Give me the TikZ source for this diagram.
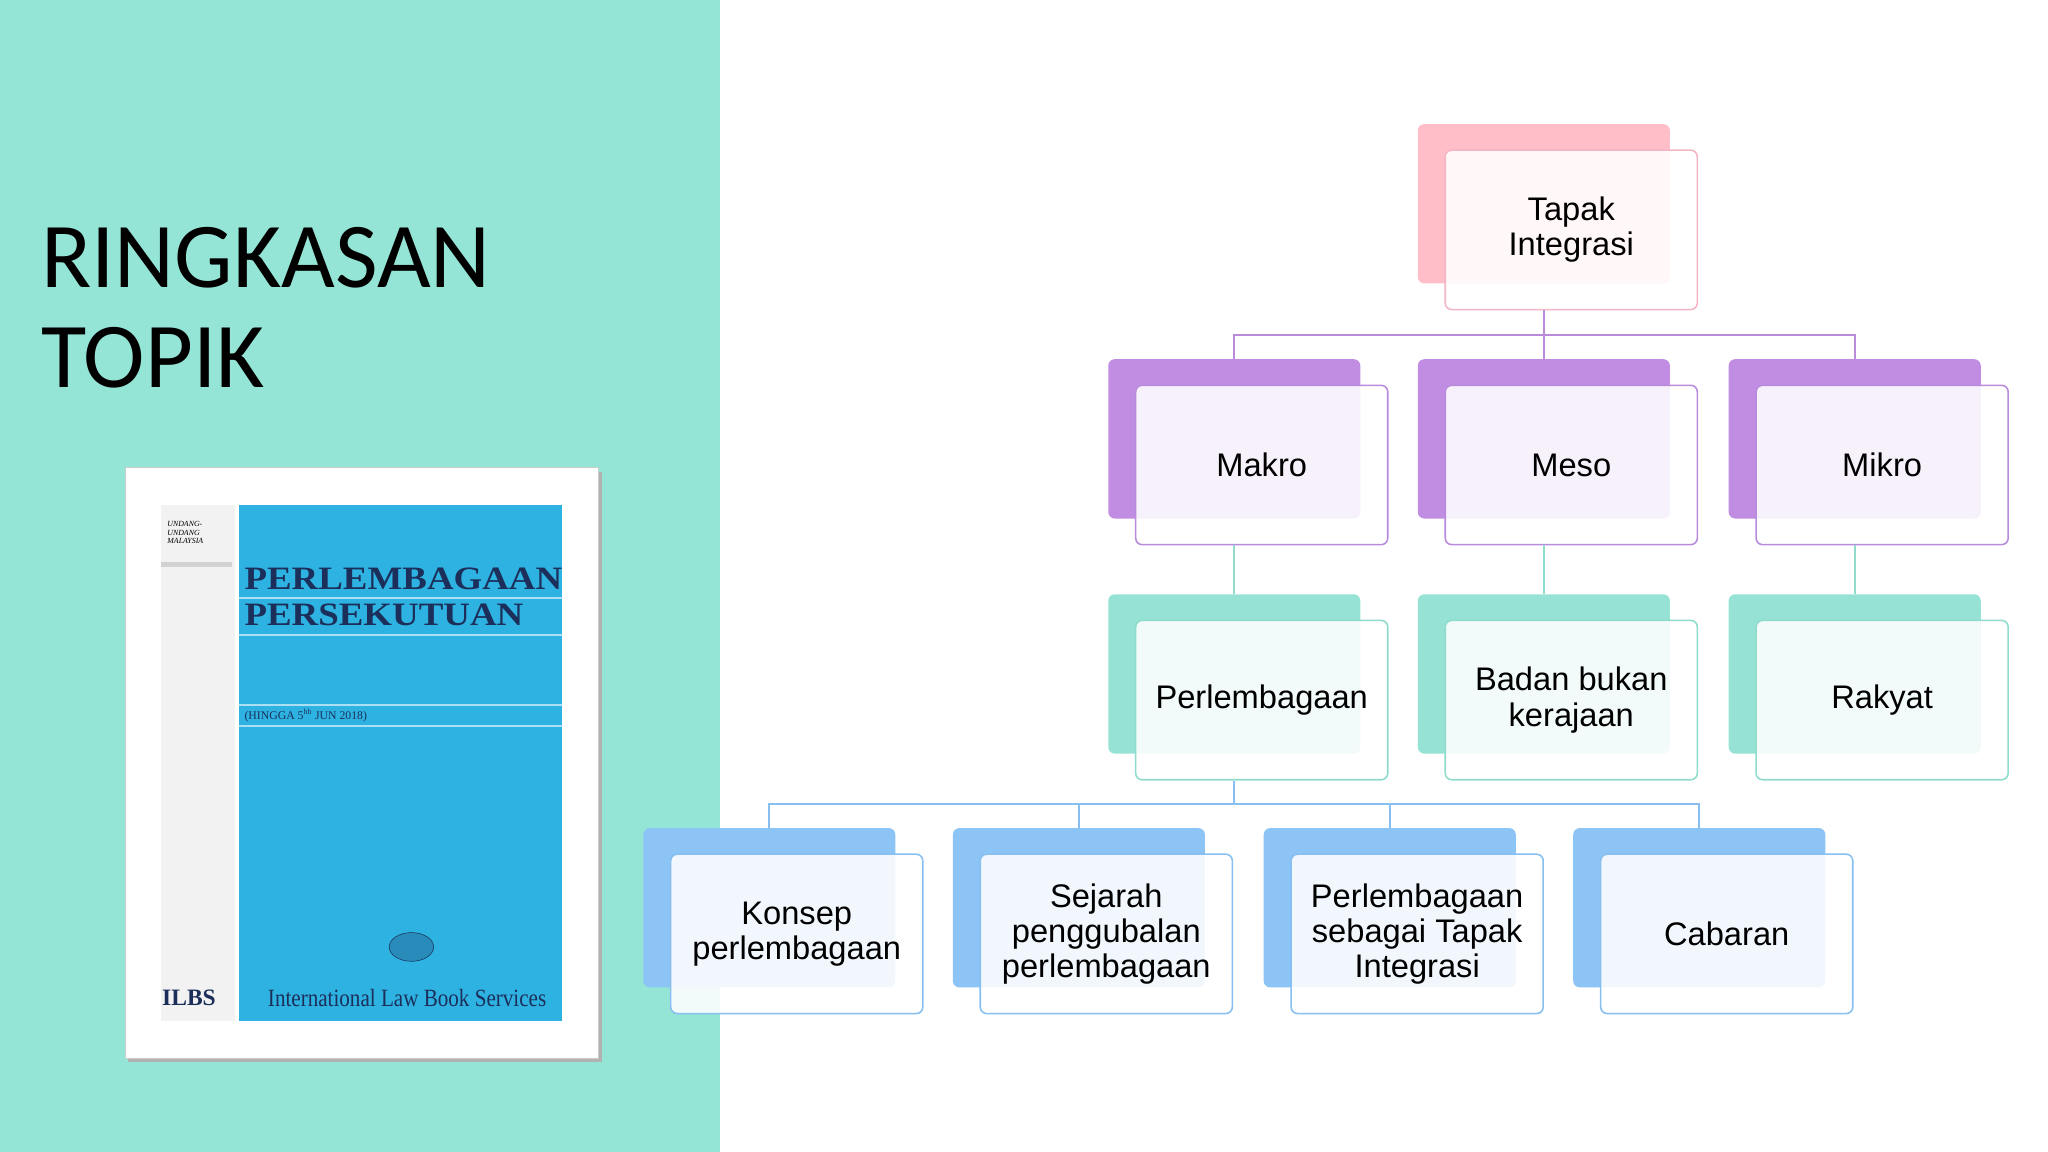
\documentclass[tikz,border=0pt]{standalone}
\usepackage{fontspec}
\setmainfont{Liberation Sans}
\newfontfamily\carl{Carlito}
\newfontfamily\tms{Liberation Serif}
\definecolor{panel}{HTML}{95E5D7}
\definecolor{pinkb}{HTML}{FFBEC8}
\definecolor{pinkd}{HTML}{F4B6C5}
\definecolor{purb}{HTML}{C08DE3}
\definecolor{purd}{HTML}{B88BDD}
\definecolor{teab}{HTML}{96E3D5}
\definecolor{tead}{HTML}{8FDCCD}
\definecolor{blub}{HTML}{8CC4F5}
\definecolor{blud}{HTML}{86BFF0}
\definecolor{cover}{HTML}{2EB2E2}
\definecolor{navy}{HTML}{1B2F5A}
\tikzset{
  backbox/.style={fill=#1, draw=none, rounded corners=5pt, minimum width=193pt, minimum height=122pt, inner sep=0pt},
  frontbox/.style={fill=white, fill opacity=0.88, text opacity=1, draw=#1, line width=1.2pt, rounded corners=5pt, minimum width=193pt, minimum height=122pt, inner sep=0pt, align=center, font=\fontsize{25}{27}\selectfont},
  conn/.style={draw=#1, line width=1.3pt}
}
\begin{document}
\begin{tikzpicture}[x=1pt,y=-1pt]
\useasboundingbox (0,0) rectangle (1568,882);
\fill[white] (0,0) rectangle (1568,882);
\fill[panel] (0,0) rectangle (551,882);
\node[anchor=west, font=\carl\fontsize{71}{75}\selectfont] (t1) at (28,197) {RINGKASAN};
\node[anchor=west, font=\carl\fontsize{71}{75}\selectfont] (t2) at (28,274) {TOPIK};
% book
\fill[gray!60] (98,361) rectangle (461,813);
\fill[white] (96,358) rectangle (458,810);
\draw[gray!40] (96,358) rectangle (458,810);
\fill[gray!10] (123,387) rectangle (180,782);
\fill[gray!35] (123,430) rectangle (178,434);
\fill[cover] (183,387) rectangle (430,782);
\foreach \yy in {458,486,540,556}{\draw[white!60!cover, line width=1.5pt] (183,\yy) -- (430,\yy);}
\node[anchor=west, font=\tms\bfseries\fontsize{25}{25}\selectfont, text=navy, inner sep=0pt, xscale=1.13] (b1) at (187,443) {PERLEMBAGAAN};
\node[anchor=west, font=\tms\bfseries\fontsize{25}{25}\selectfont, text=navy, inner sep=0pt, xscale=1.13] (b2) at (187,471) {PERSEKUTUAN};
\node[anchor=west, font=\tms\fontsize{9}{9}\selectfont, text=navy, inner sep=0pt] (b3) at (187,548) {(HINGGA 5\textsuperscript{hb} JUN 2018)};
\node[anchor=west, font=\tms\fontsize{19}{19}\selectfont, text=navy, inner sep=0pt, xscale=0.85] (b4) at (205,764) {International Law Book Services};
\node[anchor=west, font=\tms\bfseries\fontsize{18}{18}\selectfont, text=navy, inner sep=0pt] (b5) at (124,764) {ILBS};
\node[anchor=north west, font=\tms\itshape\fontsize{6}{6.5}\selectfont, align=left, inner sep=0pt] (b6) at (128,399) {UNDANG-\\UNDANG\\MALAYSIA};
\draw[navy, fill=cover!70!navy] (315,725) ellipse (17pt and 11pt);
% chart nodes
\foreach \n/\x/\y/\c/\d/\t in {
 tap/1203/176/pinkb/pinkd/{Tapak\\Integrasi},
 mak/966/356/purb/purd/{Makro},
 mes/1203/356/purb/purd/{Meso},
 mik/1441/356/purb/purd/{Mikro},
 per/966/536/teab/tead/{Perlembagaan},
 bad/1203/536/teab/tead/{Badan bukan\\kerajaan},
 rak/1441/536/teab/tead/{Rakyat},
 kon/610/715/blub/blud/{Konsep\\perlembagaan},
 sej/847/715/blub/blud/{Sejarah\\penggubalan\\perlembagaan},
 pti/1085/715/blub/blud/{Perlembagaan\\sebagai Tapak\\Integrasi},
 cab/1322/715/blub/blud/{Cabaran}}{
  \node[backbox=\c] (\n b) at (\x-21,\y-20) {};
  \node[frontbox=\d] (\n) at (\x,\y) {\t};
}
% connectors
\draw[conn=purd] (tap.south -| tapb) -- ++(0,19) coordinate (bus1);
\draw[conn=purd] (makb.north) |- (bus1) -| (mikb.north);
\draw[conn=purd] (mesb.north) -- (bus1);
\draw[conn=tead] (mak.south -| makb) -- (perb.north);
\draw[conn=tead] (mes.south -| mesb) -- (badb.north);
\draw[conn=tead] (mik.south -| mikb) -- (rakb.north);
\draw[conn=blud] (per.south -| perb) -- ++(0,18) coordinate (bus2);
\draw[conn=blud] (konb.north) |- (bus2) -| (cabb.north);
\draw[conn=blud] (sejb.north) -- (sejb.north |- bus2);
\draw[conn=blud] (ptib.north) -- (ptib.north |- bus2);
\end{tikzpicture}
\end{document}
